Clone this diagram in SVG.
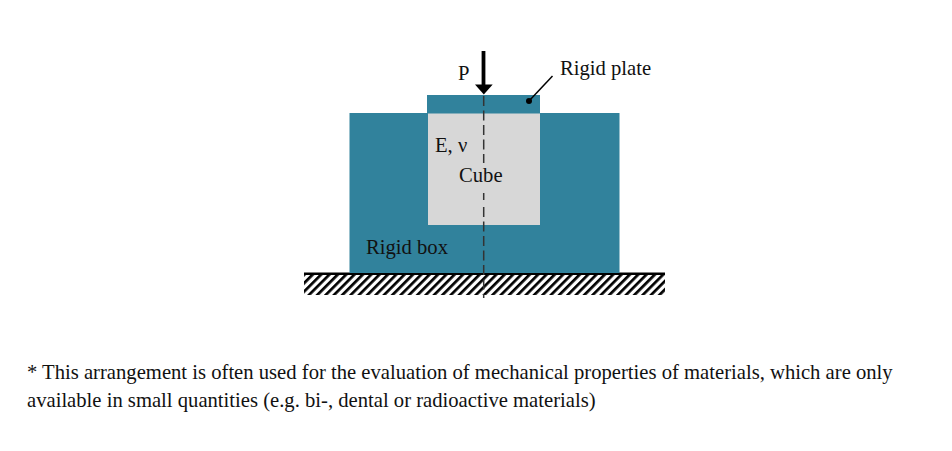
<svg xmlns="http://www.w3.org/2000/svg" width="952" height="451" viewBox="0 0 952 451">
<style>
text{font-family:"Liberation Serif","Times New Roman",serif;font-size:20.65px;fill:#111}
.teal{fill:#31829c}
</style>
<defs>
<pattern id="hatch" patternUnits="userSpaceOnUse" width="5.9" height="5.9" patternTransform="translate(304 273) rotate(45)">
<rect width="2.700" height="5.900" fill="#000"/>
</pattern>
<marker id="dot" markerWidth="8" markerHeight="8" refX="4" refY="4" markerUnits="userSpaceOnUse"><circle cx="4" cy="4" r="3"/></marker>
</defs>
<rect width="952" height="451" fill="#fff"/>
<g id="ground"><rect x="304" y="274" width="361" height="21" fill="url(#hatch)"/><rect x="304" y="272.500" width="361" height="2.500" fill="#000"/></g>
<g id="box"><rect class="teal" x="349.500" y="113" width="270" height="160"/><text x="366" y="254">Rigid box</text></g>
<g id="cube"><rect x="428" y="113.500" width="112" height="111.500" fill="#d7d7d7"/><text x="435" y="152">E, ν</text><text x="459" y="182">Cube</text></g>
<g id="plate"><rect class="teal" x="427" y="95" width="113" height="18"/></g>
<g id="connectors" fill="none" stroke="#000">
<path d="M483.700 96V163M483.700 193V200M483.700 207V298" stroke="#333" stroke-width="1.500" stroke-dasharray="10 4.500"/>
<path d="M483.500 51V86" stroke-width="3.800"/>
<path d="M475 84.500H492.700L483.800 94.500Z" fill="#000" stroke="none"/>
<path d="M552.500 76L529 101" stroke-width="1.500" marker-end="url(#dot)"/>
</g>
<g id="labels">
<text x="458" y="80">P</text>
<text x="560" y="75">Rigid plate</text>
<text x="27" y="379">* This arrangement is often used for the evaluation of mechanical properties of materials, which are only</text>
<text x="27" y="407">available in small quantities (e.g. bi-, dental or radioactive materials)</text>
</g>
</svg>
